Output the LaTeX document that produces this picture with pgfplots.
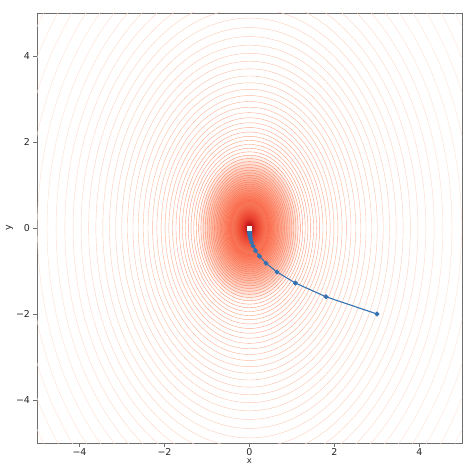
\documentclass[border=0pt]{standalone}
\usepackage{pgfplots}
\pgfplotsset{compat=1.18}
\usepackage{fontspec}
\setmainfont{DejaVu Sans}
\definecolor{pathblue}{RGB}{52,114,178}
\definecolor{spine}{RGB}{110,110,110}
\pgfplotsset{
  colormap={RedsR}{rgb255=(255,245,240) rgb255=(254,224,210) rgb255=(252,187,161) rgb255=(252,146,114) rgb255=(251,106,74) rgb255=(239,59,44) rgb255=(203,24,29) rgb255=(165,15,21) rgb255=(103,0,13)}
}
\begin{document}
\begin{tikzpicture}
\begin{axis}[
  scale only axis,
  width=425bp, height=430bp,
  xmin=-5, xmax=5, ymin=-5, ymax=5,
  xtick={-4,-2,0,2,4}, ytick={-4,-2,0,2,4},
  xticklabels={−4,−2,0,2,4}, yticklabels={−4,−2,0,2,4},
  tick align=outside, tick pos=left,
  major tick length=3.5bp,
  every tick/.style={spine, line width=0.6pt},
  axis line style={spine, line width=0.8pt},
  ticklabel style={font=\fontsize{9.5}{11}\selectfont, text=black!85},
  xticklabel style={inner sep=0pt, yshift=-2bp},
  xlabel={x}, ylabel={y},
  label style={font=\fontsize{9.5}{11}\selectfont, text=black!85},
  xlabel style={font=\fontsize{8.5}{9}\selectfont, at={(axis description cs:0.5,0)}, anchor=north, inner sep=0pt, yshift=-15.6bp},
  ylabel style={yshift=-4bp},
  /pgf/number format/assume math mode=true,
  clip=true,
]
\foreach \r [count=\k] in {6.280,5.997,5.728,5.470,5.224,4.989,4.764,4.550,4.345,4.150,3.963,3.785,3.614,3.452,3.296,3.148,3.006,2.871,2.742,2.618,2.500,2.388,2.281,2.178,2.080,1.986,1.897,1.812,1.730,1.652,1.578,1.507,1.439,1.374,1.312,1.253,1.197,1.143,1.092,1.042,0.995,0.951,0.908,0.867,0.828,0.791,0.755,0.721,0.689,0.658,0.628,0.600,0.573,0.547,0.522,0.499,0.476,0.455,0.434,0.415,0.396,0.378,0.361,0.345,0.329,0.315,0.300,0.287,0.274,0.262,0.250,0.239,0.228,0.218,0.208,0.198,0.189,0.181,0.173,0.165,0.158,0.150,0.144,0.137,0.131,0.125,0.120,0.114,0.109,0.104,0.099,0.095,0.091,0.087,0.083,0.079,0.075,0.072,0.069,0.066,0.063} {
  \pgfmathsetmacro\cv{80+7.5*\k}
  \pgfmathsetmacro\ry{\r*1.4142}
  \ifnum\k>36
    \edef\temp{\noexpand\path[color of colormap={\cv\space of RedsR}, fill=., fill opacity=0.11] (axis cs:0,0) ellipse [x radius=\r, y radius=\ry];}
    \temp
  \fi
  \ifnum\k<60
    \edef\temp{\noexpand\draw[line width=0.42pt, color of colormap={\cv\space of RedsR}, draw=.] (axis cs:0,0) ellipse [x radius=\r, y radius=\ry];}
    \temp
  \fi
}
\addplot[pathblue, line width=1.1pt, mark=*, mark size=1.9pt, mark options={fill=pathblue, draw=pathblue}] coordinates {
(3,-2) (1.8,-1.6) (1.08,-1.28) (0.648,-1.024) (0.3888,-0.8192) (0.2333,-0.6554)
(0.1400,-0.5243) (0.0840,-0.4194) (0.0504,-0.3355) (0.0302,-0.2684) (0.0181,-0.2147)
(0.0109,-0.1718) (0.0065,-0.1374) (0.0039,-0.1100) (0.0024,-0.0880) (0.0014,-0.0704)
(0.0008,-0.0563) (0.0005,-0.0450) (0.0003,-0.0360) (0.0002,-0.0288) (0.0001,-0.0231)
};
\addplot[only marks, mark=square*, mark size=2.2pt, mark options={fill=white, draw=white}] coordinates {(0,0)};
\end{axis}
\pgfresetboundingbox
\path[use as bounding box] ([shift={(-37bp,-21bp)}]current axis.south west) rectangle ([shift={(437bp,443bp)}]current axis.south west);
\end{tikzpicture}
\end{document}
